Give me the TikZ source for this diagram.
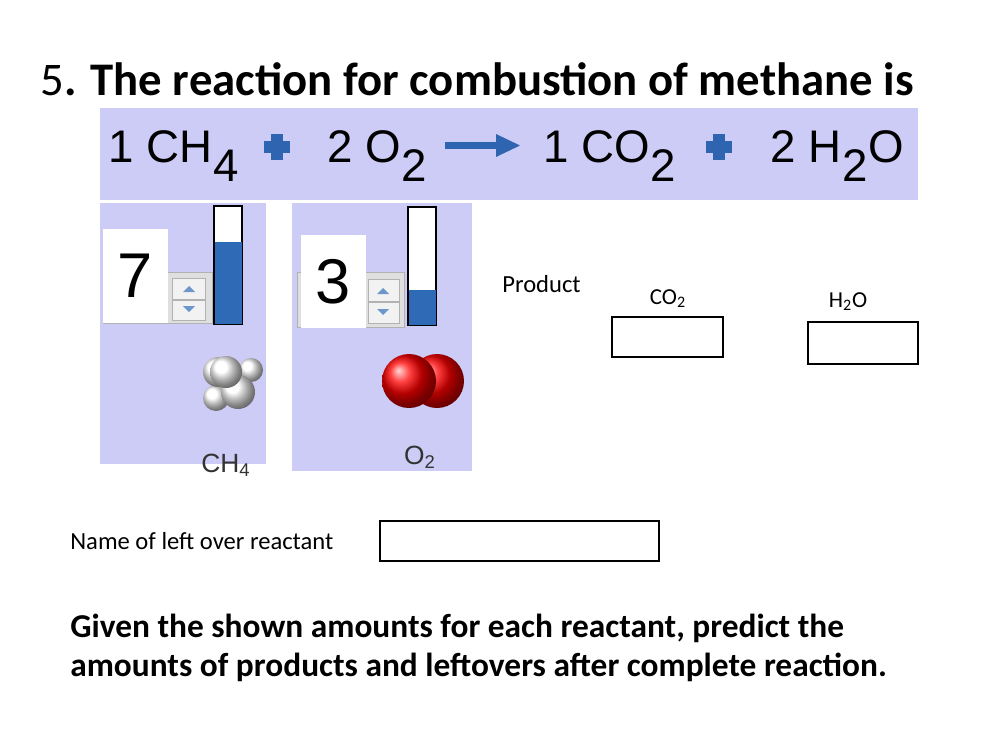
\documentclass[tikz,border=0pt]{standalone}
\usepackage{fontspec}
\setmainfont{Carlito}
\newfontfamily\arialf{Liberation Sans}
\definecolor{lav}{HTML}{CCCCF7}
\definecolor{barblue}{HTML}{2E6AB5}
\definecolor{crossblue}{HTML}{2F64B0}
\begin{document}
\begin{tikzpicture}[x=0.02cm,y=-0.02cm,
  eq/.style={font=\arialf\fontsize{26}{28}\selectfont,inner sep=0,anchor=base west},
  sub/.style={font=\arialf\fontsize{26}{28}\selectfont,inner sep=0,anchor=base west,yshift=-0.4cm},
  lbl/.style={font=\fontsize{14}{16}\selectfont,inner sep=0},
  ansbox/.style={draw,line width=1.2pt,fill=white},
  qtext/.style={font=\bfseries\fontsize{19}{22.2}\selectfont,anchor=base west,inner sep=0},
  numbox/.style={fill=white,font=\arialf\fontsize{36}{38}\selectfont,inner sep=0}]
\useasboundingbox (0,0) rectangle (1000,750);
\node[font=\fontsize{26.6}{30}\selectfont,anchor=base west,inner sep=0] (title) at (40,95) {5\textbf{. The reaction for combustion of methane is}};
\fill[lav] (100,108) rectangle (918,200);
\node[eq] (r1) at (108,162) {1 CH};
\node[sub] at (r1.base east) {4};
\node[eq] (r2) at (327,162) {2 O};
\node[sub] at (r2.base east) {2};
\node[eq] (p1) at (543,162) {1 CO};
\node[sub] (s3) at (p1.base east) {2};
\node[eq] (p2) at (770,162) {2 H};
\node[sub] (s4) at (p2.base east) {2};
\node[eq,yshift=0.4cm] at (s4.base east) {O};
\foreach \cx in {277,719}{
  \fill[crossblue] (\cx-6,134) rectangle (\cx+6,160);
  \fill[crossblue] (\cx-13,141) rectangle (\cx+13,153);}
\fill[crossblue] (445,142) rectangle (500,149);
\fill[crossblue] (496,134) -- (520,145.5) -- (496,157) -- cycle;
% panels
\fill[lav] (100,203) rectangle (266,464);
\fill[lav] (292,203) rectangle (472,471);
% panel 1
\fill[gray!25] (103,272) rectangle (212,323);
\draw[gray!60] (103,272) rectangle (212,323);
\draw[gray!60,fill=gray!10] (172,278) rectangle (205,299);
\draw[gray!60,fill=gray!10] (172,300) rectangle (205,320);
\fill[barblue!70] (183,292) -- (189,286) -- (195,292) -- cycle;
\fill[barblue!70] (183,306) -- (189,312) -- (195,306) -- cycle;
\node[numbox,minimum width=65*0.02cm,minimum height=94*0.02cm] (n1) at (135.5,276) {7};
\draw[line width=0.8pt,fill=white] (214,206) rectangle (242,324);
\fill[barblue] (214.5,242) rectangle (241.5,323.5);
% panel 2
\fill[gray!25] (297,272) rectangle (404,327);
\draw[gray!60] (297,272) rectangle (404,327);
\draw[gray!60,fill=gray!10] (368,279) rectangle (399,301);
\draw[gray!60,fill=gray!10] (368,302) rectangle (399,323);
\fill[barblue!70] (377,294) -- (383,288) -- (389,294) -- cycle;
\fill[barblue!70] (377,309) -- (383,315) -- (389,309) -- cycle;
\node[numbox,minimum width=65*0.02cm,minimum height=93*0.02cm] (n2) at (333.5,281.5) {3};
\draw[line width=0.8pt,fill=white] (408,207) rectangle (436,325);
\fill[barblue] (408.5,290) rectangle (435.5,324.5);
% CH4 molecule
\shade[ball color=white] (216,398) circle (13);
\shade[ball color=white] (251,370) circle (12);
\shade[ball color=white] (218,372) circle (15);
\shade[ball color=white] (238,392) circle (17);
\shade[ball color=white] (226,372) circle (16);
% O2
\shade[ball color=red] (437,381) circle (27);
\shade[ball color=red] (409,381) circle (27);
\node[font=\arialf\fontsize{15}{17}\selectfont,text=black!80] (c1) at (226,465) {CH\textsubscript{4}};
\node[font=\arialf\fontsize{15}{17}\selectfont,text=black!80] (c2) at (420,457) {O\textsubscript{2}};
% products
\node[lbl,anchor=base west] (prod) at (502,292) {Product};
\node[lbl,font=\fontsize{13}{15}\selectfont] (co2) at (668,299) {CO\textsubscript{2}};
\node[lbl,font=\fontsize{13}{15}\selectfont] (h2o) at (848,302) {H\textsubscript{2}O};
\draw[ansbox] (612,317) rectangle (723,357);
\draw[ansbox] (808,322) rectangle (918,364);
\node[lbl,anchor=base west] (left) at (70,549) {Name of left over reactant};
\draw[ansbox] (380,521) rectangle (659,561);
\node[qtext] (q1) at (70,637) {Given the shown amounts for each reactant, predict the};
\node[qtext] (q2) at (70,676) {amounts of products and leftovers after complete reaction.};
\end{tikzpicture}
\end{document}
